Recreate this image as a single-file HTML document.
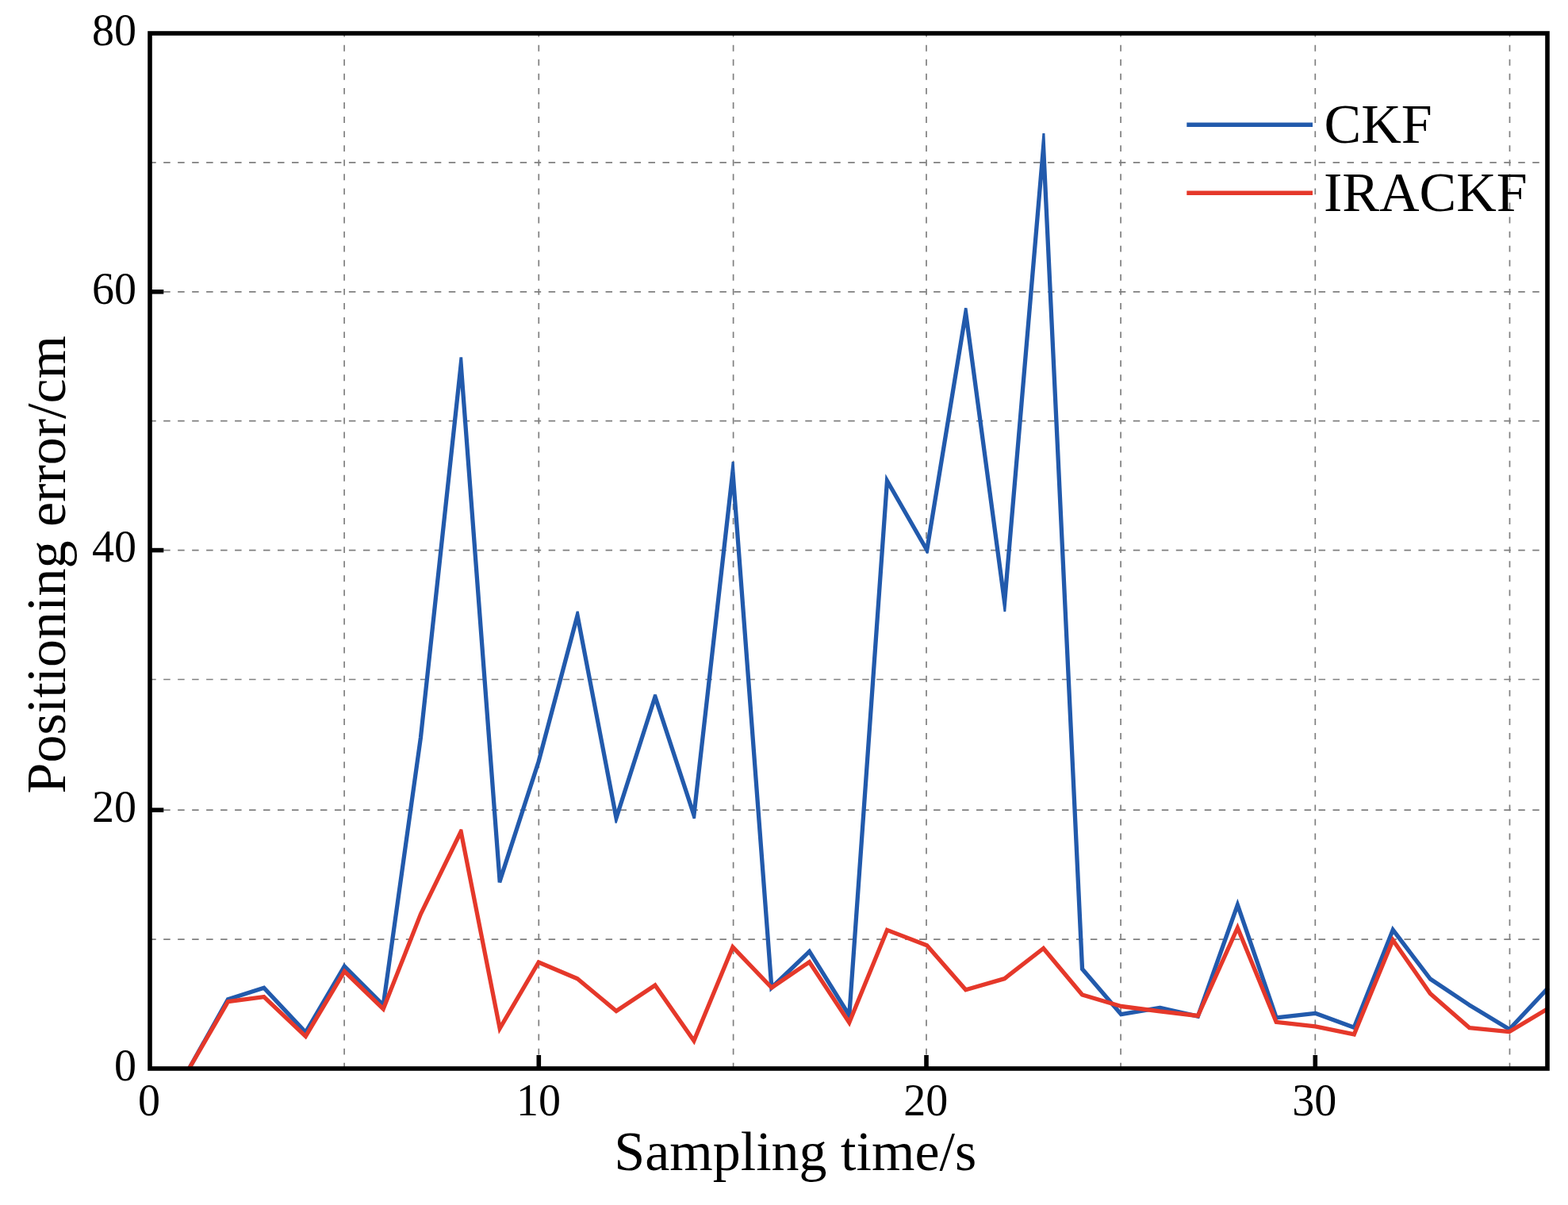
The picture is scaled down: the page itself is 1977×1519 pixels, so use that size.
<!DOCTYPE html>
<html><head><meta charset="utf-8"><title>Positioning error</title>
<style>
html,body{margin:0;padding:0;background:#fff;}
body{width:1977px;height:1519px;overflow:hidden;}
svg{display:block;}
svg text{font-family:"Liberation Serif","Times New Roman",serif;fill:#000;}
</style></head>
<body>
<svg width="1977" height="1519" viewBox="0 0 1977 1519">
<rect width="1977" height="1519" fill="#fff"/>
<line x1="188.2" y1="1184.10" x2="1941" y2="1184.10" stroke="#7f7f7f" stroke-width="1.7" stroke-dasharray="8.5 9.48"/>
<line x1="188.2" y1="1021.10" x2="1941" y2="1021.10" stroke="#7f7f7f" stroke-width="1.7" stroke-dasharray="8.5 9.48"/>
<line x1="188.2" y1="856.50" x2="1941" y2="856.50" stroke="#7f7f7f" stroke-width="1.7" stroke-dasharray="8.5 9.48"/>
<line x1="188.2" y1="693.60" x2="1941" y2="693.60" stroke="#7f7f7f" stroke-width="1.7" stroke-dasharray="8.5 9.48"/>
<line x1="188.2" y1="530.70" x2="1941" y2="530.70" stroke="#7f7f7f" stroke-width="1.7" stroke-dasharray="8.5 9.48"/>
<line x1="188.2" y1="367.80" x2="1941" y2="367.80" stroke="#7f7f7f" stroke-width="1.7" stroke-dasharray="8.5 9.48"/>
<line x1="188.2" y1="204.90" x2="1941" y2="204.90" stroke="#7f7f7f" stroke-width="1.7" stroke-dasharray="8.5 9.48"/>
<line x1="434.10" y1="1347.6" x2="434.10" y2="42.0" stroke="#7f7f7f" stroke-width="1.7" stroke-dasharray="7.9 10.17"/>
<line x1="679.30" y1="1347.6" x2="679.30" y2="42.0" stroke="#7f7f7f" stroke-width="1.7" stroke-dasharray="7.9 10.17"/>
<line x1="924.60" y1="1347.6" x2="924.60" y2="42.0" stroke="#7f7f7f" stroke-width="1.7" stroke-dasharray="7.9 10.17"/>
<line x1="1168.00" y1="1347.6" x2="1168.00" y2="42.0" stroke="#7f7f7f" stroke-width="1.7" stroke-dasharray="7.9 10.17"/>
<line x1="1413.10" y1="1347.6" x2="1413.10" y2="42.0" stroke="#7f7f7f" stroke-width="1.7" stroke-dasharray="7.9 10.17"/>
<line x1="1658.30" y1="1347.6" x2="1658.30" y2="42.0" stroke="#7f7f7f" stroke-width="1.7" stroke-dasharray="7.9 10.17"/>
<line x1="1903.50" y1="1347.6" x2="1903.50" y2="42.0" stroke="#7f7f7f" stroke-width="1.7" stroke-dasharray="7.9 10.17"/>
<path fill="#225AAC" d="M236.15,1345.70 L285.11,1258.50 L289.73,1261.10 L240.77,1348.30Z M286.61,1257.28 L331.99,1242.68 L333.61,1247.72 L288.23,1262.32Z M334.74,1243.39 L387.28,1299.59 L383.40,1303.21 L330.86,1247.01Z M383.05,1300.06 L432.01,1216.66 L436.59,1219.34 L387.63,1302.74Z M436.17,1216.13 L485.13,1265.13 L481.39,1268.87 L432.43,1219.87Z M480.64,1266.63 L527.78,929.63 L533.02,930.37 L485.88,1267.37Z M527.77,929.72 L578.55,459.01 L583.81,459.58 L533.03,930.28Z M583.82,459.10 L632.78,1110.73 L627.50,1111.12 L578.54,459.49Z M627.62,1110.11 L676.58,959.18 L681.62,960.82 L632.66,1111.74Z M676.54,959.32 L725.50,775.02 L730.62,776.38 L681.66,960.68Z M730.66,775.20 L779.62,1030.71 L774.42,1031.71 L725.46,776.20Z M774.50,1030.41 L823.46,877.39 L828.50,879.01 L779.54,1032.02Z M828.50,877.37 L877.46,1026.75 L872.42,1028.40 L823.46,879.02Z M872.31,1027.28 L921.27,594.07 L926.53,594.67 L877.57,1027.87Z M926.54,594.17 L975.50,1244.80 L970.22,1245.20 L921.26,594.57Z M971.03,1243.09 L1018.67,1197.49 L1022.33,1201.31 L974.69,1246.91Z M1022.75,1198.00 L1073.03,1278.60 L1068.53,1281.40 L1018.25,1200.80Z M1068.14,1279.81 L1115.86,605.81 L1121.14,606.19 L1073.42,1280.19Z M1120.80,604.68 L1171.00,692.15 L1166.40,694.79 L1116.20,607.32Z M1166.08,693.04 L1215.04,393.77 L1220.28,394.63 L1171.32,693.90Z M1220.29,393.85 L1269.25,758.96 L1263.99,759.66 L1215.03,394.55Z M1263.98,759.08 L1312.94,185.09 L1318.22,185.54 L1269.26,759.53Z M1318.23,185.19 L1367.19,1221.37 L1361.89,1221.63 L1312.93,185.44Z M1366.55,1219.78 L1415.51,1276.88 L1411.49,1280.32 L1362.53,1223.22Z M1413.06,1275.99 L1462.02,1267.79 L1462.90,1273.01 L1413.94,1281.21Z M1463.04,1267.81 L1510.98,1278.61 L1509.82,1283.79 L1461.88,1272.99Z M1507.90,1280.31 L1557.88,1139.81 L1562.88,1141.59 L1512.90,1282.09Z M1562.89,1139.84 L1611.71,1281.94 L1606.69,1283.66 L1557.87,1141.56Z M1608.91,1280.17 L1658.01,1274.67 L1658.59,1279.93 L1609.49,1285.43Z M1659.21,1274.81 L1708.17,1292.81 L1706.35,1297.79 L1657.39,1279.79Z M1704.80,1294.32 L1753.76,1171.22 L1758.68,1173.18 L1709.72,1296.28Z M1758.33,1170.59 L1805.41,1232.39 L1801.19,1235.61 L1754.11,1173.81Z M1804.77,1231.80 L1854.07,1264.70 L1851.13,1269.10 L1801.83,1236.20Z M1853.97,1264.63 L1904.47,1295.23 L1901.73,1299.77 L1851.23,1269.17Z M1901.17,1295.69 L1950.13,1243.49 L1953.99,1247.11 L1905.03,1299.31Z M287.42,1259.80 L285.11,1258.50 L285.62,1257.60 L286.61,1257.28Z M332.80,1245.20 L331.99,1242.68 L333.59,1242.16 L334.74,1243.39Z M387.63,1302.74 L385.83,1305.80 L383.40,1303.21 L385.34,1301.40Z M434.30,1218.00 L432.01,1216.66 L433.75,1213.70 L436.17,1216.13Z M485.88,1267.37 L485.15,1272.64 L481.39,1268.87 L483.26,1267.00Z M533.03,930.28 L533.03,930.33 L533.02,930.37 L530.40,930.00Z M581.18,459.29 L578.55,459.01 L579.49,450.27 L583.16,450.33 L583.82,459.10Z M632.66,1111.74 L632.23,1113.06 L627.60,1112.51 L627.50,1111.12 L630.14,1110.92Z M681.66,960.68 L681.64,960.75 L681.62,960.82 L679.10,960.00Z M728.06,775.70 L725.50,775.02 L726.71,770.45 L729.77,770.56 L730.66,775.20Z M779.54,1032.02 L777.68,1037.85 L775.57,1037.72 L774.42,1031.71 L777.02,1031.21Z M825.98,878.20 L823.46,877.39 L824.16,875.21 L827.78,875.19 L828.50,877.37Z M877.57,1027.87 L877.13,1031.80 L873.65,1032.16 L872.42,1028.40 L874.94,1027.58Z M923.90,594.37 L921.27,594.07 L922.63,581.97 L925.63,582.03 L926.54,594.17Z M974.69,1246.91 L970.64,1250.79 L970.22,1245.20 L972.86,1245.00Z M1020.50,1199.40 L1018.67,1197.49 L1021.02,1195.23 L1022.75,1198.00Z M1073.42,1280.19 L1072.85,1288.32 L1068.53,1281.40 L1070.78,1280.00Z M1118.50,606.00 L1115.86,605.81 L1116.47,597.14 L1120.80,604.68Z M1171.32,693.90 L1170.73,697.50 L1168.22,697.96 L1166.40,694.79 L1168.70,693.47Z M1217.66,394.20 L1215.04,393.77 L1215.98,388.08 L1219.52,388.13 L1220.29,393.85Z M1269.26,759.53 L1268.28,771.06 L1265.53,771.13 L1263.99,759.66 L1266.62,759.31Z M1315.58,185.32 L1312.94,185.09 L1314.40,167.97 L1317.42,168.03 L1318.23,185.19Z M1362.53,1223.22 L1361.94,1222.53 L1361.89,1221.63 L1364.54,1221.50Z M1413.94,1281.21 L1412.46,1281.46 L1411.49,1280.32 L1413.50,1278.60Z M1462.46,1270.40 L1462.02,1267.79 L1462.54,1267.70 L1463.04,1267.81Z M1512.90,1282.09 L1512.11,1284.30 L1509.82,1283.79 L1510.40,1281.20Z M1560.38,1140.70 L1557.88,1139.81 L1560.42,1132.67 L1562.89,1139.84Z M1609.49,1285.43 L1607.38,1285.67 L1606.69,1283.66 L1609.20,1282.80Z M1658.30,1277.30 L1658.01,1274.67 L1658.63,1274.60 L1659.21,1274.81Z M1709.72,1296.28 L1708.77,1298.68 L1706.35,1297.79 L1707.26,1295.30Z M1756.22,1172.20 L1753.76,1171.22 L1755.49,1166.87 L1758.33,1170.59Z M1801.83,1236.20 L1801.46,1235.96 L1801.19,1235.61 L1803.30,1234.00Z M1851.23,1269.17 L1851.18,1269.14 L1851.13,1269.10 L1852.60,1266.90Z M1905.03,1299.31 L1903.56,1300.88 L1901.73,1299.77 L1903.10,1297.50Z"/>
<path fill="#E5382A" d="M236.17,1345.67 L285.13,1261.37 L289.71,1264.03 L240.75,1348.33Z M287.07,1260.07 L332.45,1253.97 L333.15,1259.23 L287.77,1265.33Z M334.62,1254.68 L387.16,1304.48 L383.52,1308.32 L330.98,1258.52Z M383.07,1305.04 L432.03,1223.14 L436.57,1225.86 L387.61,1307.76Z M436.14,1222.60 L485.10,1270.00 L481.42,1273.80 L432.46,1226.40Z M480.79,1270.93 L527.93,1151.43 L532.87,1153.37 L485.73,1272.87Z M528.02,1151.24 L578.80,1047.10 L583.56,1049.43 L532.78,1153.56Z M583.78,1047.75 L632.74,1295.99 L627.54,1297.01 L578.58,1048.78Z M627.85,1295.16 L676.81,1211.66 L681.39,1214.34 L632.43,1297.84Z M680.13,1210.56 L729.09,1231.26 L727.03,1236.14 L678.07,1215.44Z M729.76,1231.66 L778.72,1272.46 L775.32,1276.54 L726.36,1235.74Z M775.55,1272.29 L824.51,1239.79 L827.45,1244.21 L778.49,1276.71Z M828.15,1240.48 L877.11,1310.48 L872.77,1313.52 L823.81,1243.52Z M872.49,1310.99 L921.45,1192.79 L926.35,1194.81 L877.39,1313.01Z M925.82,1191.97 L974.78,1243.17 L970.94,1246.83 L921.98,1195.63Z M971.37,1242.81 L1019.01,1210.51 L1021.99,1214.89 L974.35,1247.19Z M1022.71,1211.24 L1072.99,1287.54 L1068.57,1290.46 L1018.29,1214.16Z M1068.33,1288.00 L1116.05,1171.40 L1120.95,1173.40 L1073.23,1290.00Z M1119.46,1169.93 L1169.66,1189.33 L1167.74,1194.27 L1117.54,1174.87Z M1170.69,1190.05 L1219.65,1245.95 L1215.67,1249.45 L1166.71,1193.55Z M1216.93,1245.15 L1265.89,1231.05 L1267.35,1236.15 L1218.39,1250.25Z M1264.99,1231.51 L1313.95,1193.41 L1317.21,1197.59 L1268.25,1235.69Z M1317.61,1193.80 L1366.57,1252.30 L1362.51,1255.70 L1313.55,1197.20Z M1365.29,1251.46 L1414.25,1265.96 L1412.75,1271.04 L1363.79,1256.54Z M1413.84,1265.87 L1462.80,1272.17 L1462.12,1277.43 L1413.16,1271.13Z M1462.77,1272.17 L1510.71,1277.87 L1510.09,1283.13 L1462.15,1277.43Z M1507.98,1279.41 L1557.96,1168.41 L1562.80,1170.59 L1512.82,1281.59Z M1562.83,1168.49 L1611.65,1287.39 L1606.75,1289.41 L1557.93,1170.51Z M1609.49,1285.77 L1658.59,1291.27 L1658.01,1296.53 L1608.91,1291.03Z M1658.83,1291.30 L1707.79,1301.30 L1706.73,1306.50 L1657.77,1296.50Z M1704.81,1302.89 L1753.77,1183.99 L1758.67,1186.01 L1709.71,1304.91Z M1758.39,1183.48 L1805.47,1250.98 L1801.13,1254.02 L1754.05,1186.52Z M1805.04,1250.50 L1854.34,1293.60 L1850.86,1297.60 L1801.56,1254.50Z M1852.86,1292.96 L1903.36,1297.96 L1902.84,1303.24 L1852.34,1298.24Z M1901.74,1298.33 L1950.70,1268.98 L1953.42,1273.52 L1904.46,1302.87Z M287.42,1262.70 L285.13,1261.37 L285.78,1260.25 L287.07,1260.07Z M332.80,1256.60 L332.45,1253.97 L333.70,1253.80 L334.62,1254.68Z M387.61,1307.76 L385.92,1310.60 L383.52,1308.32 L385.34,1306.40Z M434.30,1224.50 L432.03,1223.14 L433.74,1220.27 L436.14,1222.60Z M485.73,1272.87 L484.27,1276.56 L481.42,1273.80 L483.26,1271.90Z M530.40,1152.40 L527.93,1151.43 L527.97,1151.33 L528.02,1151.24Z M581.18,1048.27 L578.80,1047.10 L579.83,1045.00 L583.33,1045.45 L583.78,1047.75Z M632.43,1297.84 L628.89,1303.87 L627.54,1297.01 L630.14,1296.50Z M679.10,1213.00 L676.81,1211.66 L677.99,1209.65 L680.13,1210.56Z M728.06,1233.70 L729.09,1231.26 L729.45,1231.41 L729.76,1231.66Z M778.49,1276.71 L776.84,1277.80 L775.32,1276.54 L777.02,1274.50Z M825.98,1242.00 L824.51,1239.79 L826.67,1238.36 L828.15,1240.48Z M877.39,1313.01 L875.54,1317.48 L872.77,1313.52 L874.94,1312.00Z M923.90,1193.80 L921.45,1192.79 L923.01,1189.03 L925.82,1191.97Z M974.35,1247.19 L972.49,1248.45 L970.94,1246.83 L972.86,1245.00Z M1020.50,1212.70 L1019.01,1210.51 L1021.24,1209.00 L1022.71,1211.24Z M1073.23,1290.00 L1071.33,1294.65 L1068.57,1290.46 L1070.78,1289.00Z M1118.50,1172.40 L1116.05,1171.40 L1117.03,1168.99 L1119.46,1169.93Z M1168.70,1191.80 L1169.66,1189.33 L1170.26,1189.56 L1170.69,1190.05Z M1218.39,1250.25 L1216.78,1250.71 L1215.67,1249.45 L1217.66,1247.70Z M1268.25,1235.69 L1267.84,1236.01 L1267.35,1236.15 L1266.62,1233.60Z M1315.58,1195.50 L1313.95,1193.41 L1315.97,1191.84 L1317.61,1193.80Z M1363.79,1256.54 L1363.02,1256.31 L1362.51,1255.70 L1364.54,1254.00Z M1413.16,1271.13 L1412.95,1271.10 L1412.75,1271.04 L1413.50,1268.50Z M1462.15,1277.43 L1462.13,1277.43 L1462.12,1277.43 L1462.46,1274.80Z M1512.82,1281.59 L1512.02,1283.36 L1510.09,1283.13 L1510.40,1280.50Z M1560.38,1169.50 L1557.96,1168.41 L1560.49,1162.80 L1562.83,1168.49Z M1608.91,1291.03 L1607.34,1290.86 L1606.75,1289.41 L1609.20,1288.40Z M1658.30,1293.90 L1658.59,1291.27 L1658.71,1291.28 L1658.83,1291.30Z M1709.71,1304.91 L1708.88,1306.93 L1706.73,1306.50 L1707.26,1303.90Z M1756.22,1185.00 L1753.77,1183.99 L1755.62,1179.50 L1758.39,1183.48Z M1801.56,1254.50 L1801.31,1254.28 L1801.13,1254.02 L1803.30,1252.50Z M1852.34,1298.24 L1851.49,1298.15 L1850.86,1297.60 L1852.60,1295.60Z M1904.46,1302.87 L1903.71,1303.32 L1902.84,1303.24 L1903.10,1300.60Z"/>
<line x1="189.0" y1="1021.10" x2="206.3" y2="1021.10" stroke="#000" stroke-width="5.6"/>
<line x1="189.0" y1="693.60" x2="206.3" y2="693.60" stroke="#000" stroke-width="5.6"/>
<line x1="189.0" y1="367.80" x2="206.3" y2="367.80" stroke="#000" stroke-width="5.6"/>
<line x1="679.30" y1="1347.0" x2="679.30" y2="1330" stroke="#000" stroke-width="5.6"/>
<line x1="1168.00" y1="1347.0" x2="1168.00" y2="1330" stroke="#000" stroke-width="5.6"/>
<line x1="1658.30" y1="1347.0" x2="1658.30" y2="1330" stroke="#000" stroke-width="5.6"/>
<rect x="189.0" y="42.0" width="1762.0" height="1305.0" fill="none" stroke="#000" stroke-width="5.6"/>
<line x1="1496.3" y1="157.2" x2="1655" y2="157.2" stroke="#225AAC" stroke-width="5.4"/>
<line x1="1496.3" y1="243.3" x2="1655" y2="243.3" stroke="#E5382A" stroke-width="5.4"/>
<text x="1669.5" y="179.8" font-size="70">CKF</text>
<text x="1669" y="265.9" font-size="70">IRACKF</text>
<text x="172" y="1361.8" font-size="56" text-anchor="end">0</text>
<text x="172" y="1035.9" font-size="56" text-anchor="end">20</text>
<text x="172" y="708.4" font-size="56" text-anchor="end">40</text>
<text x="172" y="382.6" font-size="56" text-anchor="end">60</text>
<text x="172" y="56.8" font-size="56" text-anchor="end">80</text>
<text x="188.0" y="1406" font-size="56" text-anchor="middle">0</text>
<text x="679.0" y="1406" font-size="56" text-anchor="middle">10</text>
<text x="1167.2" y="1406" font-size="56" text-anchor="middle">20</text>
<text x="1657.3" y="1406" font-size="56" text-anchor="middle">30</text>
<text x="1002.75" y="1475.3" font-size="70" text-anchor="middle">Sampling time/s</text>
<text transform="translate(82,711.75) rotate(-90)" x="0" y="0" font-size="70" text-anchor="middle">Positioning error/cm</text>
</svg>
</body></html>
